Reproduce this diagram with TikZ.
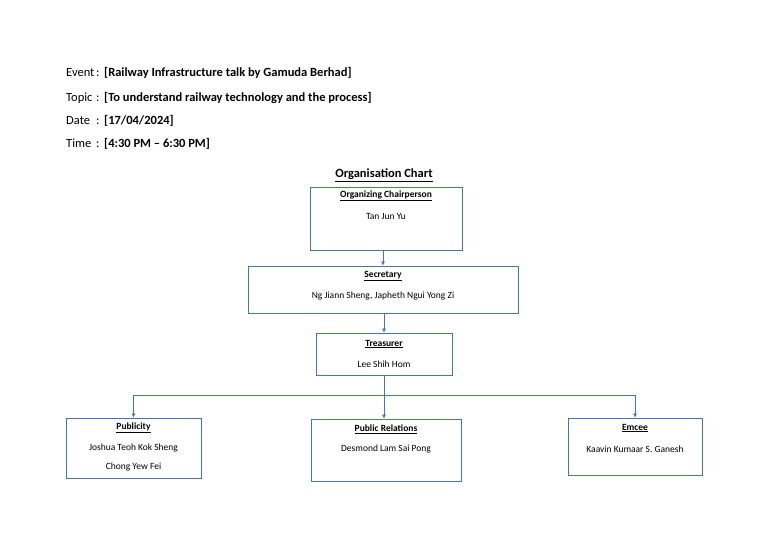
\documentclass[tikz,border=0pt]{standalone}
\usepackage{fontspec}
\setmainfont{Carlito}
\usetikzlibrary{arrows.meta}
\definecolor{boxblue}{RGB}{68,114,196}

\begin{document}
\begin{tikzpicture}[x=1pt,y=-1pt,
  box/.style={draw=boxblue,line width=0.8pt,inner sep=0pt},
  head/.style={font=\fontsize{12.5}{14}\selectfont\bfseries,anchor=base west,inner sep=0pt},
  hlab/.style={font=\fontsize{12.5}{14}\selectfont,anchor=base west,inner sep=0pt},
  ttl/.style={font=\fontsize{9.5}{11}\selectfont\bfseries,inner sep=0pt},
  nm/.style={font=\fontsize{9.5}{11}\selectfont,inner sep=0pt},
  link/.style={draw=boxblue,line width=0.6pt,-{Latex[length=4pt,width=4pt]}}]
\useasboundingbox (0,0) rectangle (768,543);
% header lines
\foreach \y/\l/\t [count=\i] in {77/Event/{[Railway Infrastructure talk by Gamuda Berhad]},
  101/Topic/{[To understand railway technology and the process]},
  124/Date/{[17/04/2024]},147/Time/{[4:30 PM -- 6:30 PM]}} {
  \node[hlab] (lab\i) at (66,\y) {\l};
  \node[hlab] (col\i) at (96,\y) {:};
  \node[head] (txt\i) at (104,\y) {\t};
}
\node[font=\fontsize{12.5}{14}\selectfont\bfseries,inner sep=0pt] (chart) at (384,175) {\underline{Organisation Chart}};
% boxes
\node[box,minimum width=152pt,minimum height=63pt] (chair) at (386,218.5) {};
\node[box,minimum width=270pt,minimum height=47pt] (sec) at (383,289.5) {};
\node[box,minimum width=136pt,minimum height=42pt] (tre) at (384,354) {};
\node[box,minimum width=135pt,minimum height=60pt] (pub) at (133.5,448) {};
\node[box,minimum width=150pt,minimum height=62pt] (pr) at (386,450) {};
\node[box,minimum width=134pt,minimum height=57pt] (emc) at (635,446.5) {};
% texts
\node[ttl] (chairT) at (386,196) {\underline{Organizing Chairperson}};
\node[nm] (chairN) at (386,216) {Tan Jun Yu};
\node[ttl] (secT) at (383,276) {\underline{Secretary}};
\node[nm] (secN) at (383,296) {Ng Jiann Sheng, Japheth Ngui Yong Zi};
\node[ttl] (treT) at (384,344) {\underline{Treasurer}};
\node[nm] (treN) at (384,364) {Lee Shih Hom};
\node[ttl] (pubT) at (133.5,428) {\underline{Publicity}};
\node[nm] (pubN1) at (133.5,448) {Joshua Teoh Kok Sheng};
\node[nm] (pubN2) at (133.5,467) {Chong Yew Fei};
\node[ttl] (prT) at (386,429) {\underline{Public Relations}};
\node[nm] (prN) at (386,449) {Desmond Lam Sai Pong};
\node[ttl] (emcT) at (635,428) {\underline{Emcee}};
\node[nm] (emcN) at (635,449) {Kaavin Kumaar S. Ganesh};
% connectors
\coordinate (split) at (384,395);
\draw[link] (chair.south -| sec.north) -- (sec.north);
\draw[link] (sec.south -| tre.north) -- (tre.north);
\draw[draw=boxblue,line width=0.6pt] (tre.south) -- (split);
\draw[draw=boxblue,line width=0.6pt] (split -| pub.north) -- (split -| emc.north);
\draw[link] (split -| pub.north) -- (pub.north);
\draw[link] (split -| tre.south) -- (pr.north -| tre.south);
\draw[link] (split -| emc.north) -- (emc.north);
\end{tikzpicture}
\end{document}
